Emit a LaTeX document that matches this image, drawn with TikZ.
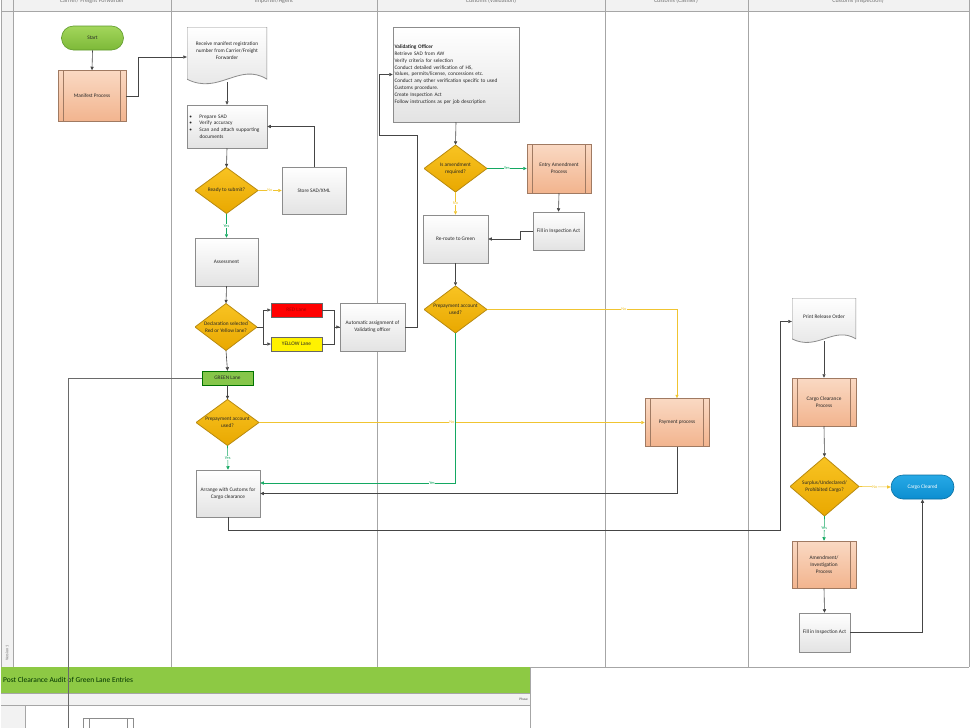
\documentclass[tikz,border=0pt]{standalone}
\usepackage{fontspec}
\setmainfont{Carlito}
\usetikzlibrary{arrows.meta,calc}
\definecolor{lanegray}{HTML}{A6A6A6}
\definecolor{stripgray}{HTML}{F2F2F2}
\definecolor{boxborder}{HTML}{8C8C8C}
\definecolor{boxbot}{HTML}{E3E3E3}
\definecolor{procTop}{HTML}{FAD9C3}
\definecolor{procBot}{HTML}{F2B48E}
\definecolor{procBorder}{HTML}{A07A62}
\definecolor{decTop}{HTML}{F8C322}
\definecolor{decBot}{HTML}{E9A800}
\definecolor{decBorder}{HTML}{B88A10}
\definecolor{startTop}{HTML}{A3D65C}
\definecolor{startBot}{HTML}{7DB938}
\definecolor{startBorder}{HTML}{5E9A2A}
\definecolor{cleTop}{HTML}{27A9E6}
\definecolor{cleBot}{HTML}{0C8ED0}
\definecolor{cleBorder}{HTML}{0A6FA0}
\definecolor{conncol}{HTML}{454545}
\definecolor{yescol}{HTML}{14A862}
\definecolor{nocol}{HTML}{F0C431}
\definecolor{greenband}{HTML}{8DC944}
\definecolor{greenlane}{HTML}{86C64A}
\newcommand{\upby}[2]{\raisebox{#1}[\height][\depth]{#2}}
\begin{document}
\begin{tikzpicture}[x=1pt,y=-1pt,
  every node/.style={font=\fontsize{5.3}{6.8}\selectfont, text=black!85, inner sep=1pt, align=center},
  wh/.style 2 args={minimum width=#1pt, minimum height=#2pt},
  lane/.style={draw=lanegray, line width=0.8pt},
  boxn/.style={rectangle, draw=boxborder, line width=0.5pt, top color=white, bottom color=boxbot},
  procn/.style={rectangle, draw=procBorder, line width=0.5pt, top color=procTop, bottom color=procBot,
    path picture={\draw[procBorder, line width=0.5pt]
      ([xshift=5.5pt]path picture bounding box.north west) -- ([xshift=5.5pt]path picture bounding box.south west)
      ([xshift=-5.5pt]path picture bounding box.north east) -- ([xshift=-5.5pt]path picture bounding box.south east);}},
  decn/.style={rectangle, draw=none, inner sep=0pt,
    path picture={\shadedraw[top color=decTop, bottom color=decBot, draw=decBorder, line width=0.8pt]
      (path picture bounding box.north) -- (path picture bounding box.east) --
      (path picture bounding box.south) -- (path picture bounding box.west) -- cycle;}},
  docn/.style={rectangle, draw=none, inner sep=1pt,
    path picture={\shadedraw[top color=white, bottom color=boxbot, draw=boxborder, line width=0.8pt]
      let \p1=(path picture bounding box.north west), \p2=(path picture bounding box.south east),
          \n1={\y1-\y2}, \n2={\x2-\x1} in
      (\x1,\y1) -- (\x2,\y1) -- (\x2,{\y2+0.13*\n1})
      .. controls ({\x2-0.35*\n2},{\y2+0.42*\n1}) and ({\x1+0.4*\n2},{\y2-0.14*\n1}) ..
      (\x1,{\y2+0.13*\n1}) -- cycle;}},
  termn/.style={rectangle, rounded corners=12pt, line width=0.6pt},
  conn/.style={draw=conncol, line width=0.6pt, -{Triangle[length=3.5pt,width=3.2pt]}},
  yesc/.style={draw=yescol, line width=0.6pt, -{Triangle[length=3.5pt,width=3.2pt]}},
  noc/.style={draw=nocol, line width=0.6pt, -{Triangle[length=3.5pt,width=3.2pt]}},
  yesl/.style={font=\fontsize{4.3}{4.3}\selectfont, text=yescol, fill=white, inner sep=0.4pt},
  nol/.style={font=\fontsize{4.3}{4.3}\selectfont, text=nocol, fill=white, inner sep=0.4pt},
  hdr/.style={font=\fontsize{6}{6}\selectfont, text=black!55}
]
\useasboundingbox (0,0) rectangle (970,728);
% ---------------- swimlane pool ----------------
\fill[stripgray] (1,0) rectangle (969,11);
\fill[stripgray] (1,11) rectangle (13,667);
\draw[lane] (1,0) -- (1,728);
\draw[lane] (13,0) -- (13,667);
\draw[lane] (171,0) -- (171,667);
\draw[lane] (377,0) -- (377,667);
\draw[lane] (605,0) -- (605,667);
\draw[lane] (748,0) -- (748,667);
\draw[lane] (969,0) -- (969,667);
\draw[lane] (1,11) -- (969,11);
\draw[lane] (1,667) -- (969,667);
\node[hdr] (h1) at (92,1) {Carrier/ Freight Forwarder};
\node[hdr] (h2) at (274,1) {Importer/Agent};
\node[hdr] (h3) at (491,1) {Customs (Validation)};
\node[hdr] (h4) at (676,1) {Customs (Cashier)};
\node[hdr] (h5) at (858,1) {Customs (Inspection)};
\node[rotate=90, font=\fontsize{4}{4}\selectfont, text=black!60] (ver) at (7,653) {Version 1};
% ---------------- lower pool ----------------
\fill[greenband] (1,667) rectangle (530,693);
\fill[stripgray] (1,693) rectangle (530,705);
\fill[stripgray] (1,705) rectangle (25,728);
\draw[lane] (1,693) -- (530,693);
\draw[lane] (1,705) -- (530,705);
\draw[lane] (530,667) -- (530,728);
\draw[lane] (25,705) -- (25,728);
\node[anchor=west, font=\fontsize{7.5}{8}\selectfont, text=black!80!green] (pca) at (2,680) {Post Clearance Audit of Green Lane Entries};
\node[anchor=east, font=\fontsize{3.5}{4}\selectfont, text=black!70] (phase) at (529,699) {Phase};
\node[rectangle, draw=boxborder, line width=0.5pt, fill=white, wh={50}{24},
  path picture={\draw[boxborder, line width=0.5pt]
      ([xshift=6pt]path picture bounding box.north west) -- ([xshift=6pt]path picture bounding box.south west)
      ([xshift=-6pt]path picture bounding box.north east) -- ([xshift=-6pt]path picture bounding box.south east);}] (pcabox) at (108,730) {};
% ---------------- column 1 ----------------
\node[termn, draw=startBorder, top color=startTop, bottom color=startBot, wh={62}{24}] (start) at (92.5,38) {Start};
\node[procn, wh={68}{51}] (manifest) at (92,96) {Manifest Process};
% ---------------- column 2 ----------------
\node[docn, wh={80}{60}] (recv) at (227,57) {\upby{6pt}{\begin{tabular}{@{}c@{}}Receive manifest registration\\number from Carrier/Freight\\Forwarder\end{tabular}}};
\node[boxn, wh={80}{43}, text width=77pt, align=left] (prep) at (227,126.5)
  {\makebox[11pt][l]{\,•}Prepare SAD\\\makebox[11pt][l]{\,•}Verify accuracy\\\makebox[11pt][l]{\,•}Scan and attach supporting\\\hspace*{11pt}documents};
\node[decn, wh={63}{46}] (ready) at (226.5,190.5) {Ready to submit?};
\node[boxn, wh={64}{47}] (store) at (314,190.5) {Store SAD/XML};
\node[boxn, wh={63}{48}] (assess) at (226.5,262) {Assessment};
\node[decn, wh={62}{47}] (decl) at (226,327) {Declaration selected\\Red or Yellow lane?};
\node[rectangle, draw=black!60, fill=red, wh={51}{14}, text=red!65!black] (red) at (296.5,310) {RED Lane};
\node[rectangle, draw=black!60, fill=yellow, wh={51}{14}] (yellow) at (296.5,344) {YELLOW Lane};
\node[boxn, wh={65}{48}] (auto) at (372.5,327) {Automatic assignment of\\Validating officer};
\node[rectangle, draw=black!55!green, fill=greenlane, wh={51}{14}] (green) at (227.5,378) {GREEN Lane};
\node[decn, wh={63}{46}] (pre1) at (227.5,422.5) {Prepayment account\\used?};
\node[boxn, wh={64}{47}] (arrange) at (228,493.5) {Arrange with Customs for\\Cargo clearance};
% ---------------- column 3 ----------------
\node[boxn, wh={126}{95}, text width=123pt, align=left] (vo) at (456,74.5)
  {\textbf{Validating Officer}\\Retrieve SAD from AW\\Verify criteria for selection\\Conduct detailed verification of HS,\\Values, permits/license, concessions etc.\\Conduct any other verification specific to used\\Customs procedure.\\Create Inspection Act\\Follow instructions as per job description};
\node[decn, wh={63}{47}] (amend) at (455.5,168.5) {Is amendment\\required?};
\node[procn, wh={64}{49}] (entry) at (559,168.5) {Entry Amendment\\Process};
\node[boxn, wh={51}{38}] (fill1) at (558.5,231) {Fill in Inspection Act};
\node[boxn, wh={65}{48}] (reroute) at (455.5,239) {Re-route to Green};
\node[decn, wh={63}{47}] (pre2) at (455.5,309.5) {Prepayment account\\used?};
% ---------------- column 4 ----------------
\node[procn, wh={64}{48}] (payment) at (677,422.5) {Payment process};
% ---------------- column 5 ----------------
\node[docn, wh={64}{47}] (print) at (824,321.5) {\upby{4.5pt}{Print Release Order}};
\node[procn, wh={64}{48}] (cargoproc) at (824,402) {Cargo Clearance\\Process};
\node[decn, wh={69}{59}] (surplus) at (824.5,486.5) {Surplus/Undeclared/\\Prohibited Cargo?};
\node[termn, draw=cleBorder, top color=cleTop, bottom color=cleBot, wh={63}{24}, text=white] (cleared) at (922.5,487) {Cargo Cleared};
\node[procn, wh={64}{47}] (amendinv) at (824,564.5) {Amendment/\\Investigation\\Process};
\node[boxn, wh={51}{39}] (fill2) at (824.5,632.5) {Fill in Inspection Act};
% ---------------- connectors ----------------
\draw[conn] (start.south) -- (manifest.north);
\draw[conn] (manifest.east) -- ++(12,0) |- (recv.west);
\draw[conn] ([yshift=5pt]recv.south) -- (prep.north);
\draw[conn] (prep.south) -- (ready.north);
\draw[noc] (ready.east) -- node[nol]{No} (store.west);
\draw[conn] (store.north) |- (prep.east);
\draw[yesc] (ready.south) -- node[yesl, pos=0.5]{Yes} (assess.north);
\draw[conn] (assess.south) -- (decl.north);
\draw[conn] (decl.east) -- ++(6,0) |- (red.west);
\draw[conn] (decl.east) -- ++(6,0) |- (yellow.west);
\draw[conn] (red.east) -- ++(12,0) |- (auto.west);
\draw[draw=conncol, line width=0.6pt] (yellow.east) -- ++(12,0) |- (auto.west);
\draw[conn] (auto.east) -- ++(12,0) -- ++(0,-192) -- ++(-38,0) |- (vo.west);
\draw[conn] (decl.south) -- (green.north);
\draw[draw=conncol!80, line width=0.7pt] (green.west) -| ++(-133.5,360);
\draw[conn] (green.south) -- (pre1.north);
\draw[noc] (pre1.east) -- node[nol, pos=0.5]{No} (payment.west);
\draw[yesc] (pre1.south) -- node[yesl, pos=0.5]{Yes} (arrange.north);
\draw[conn] (vo.south) -- (amend.north);
\draw[yesc] (amend.east) -- node[yesl]{Yes} (entry.west);
\draw[noc] (amend.south) -- node[nol]{No} (reroute.north);
\draw[conn] (entry.south) -- (fill1.north);
\draw[conn] (fill1.west) -- ++(-12,0) |- (reroute.east);
\draw[conn] (reroute.south) -- (pre2.north);
\draw[noc] (pre2.east) -| node[nol, pos=0.36]{No} (payment.north);
\draw[yesc] (pre2.south) |- node[yesl, pos=0.56]{Yes} ([yshift=10.5pt]arrange.east);
\draw[conn] (payment.south) |- (arrange.east);
\draw[conn] (arrange.south) -- ++(0,13.5) -- ++(552,0) |- (print.west);
\draw[conn] ([yshift=4pt]print.south) -- (cargoproc.north);
\draw[conn] (cargoproc.south) -- (surplus.north);
\draw[noc] (surplus.east) -- node[nol]{No} (cleared.west);
\draw[yesc] (surplus.south) -- node[yesl]{Yes} (amendinv.north);
\draw[conn] (amendinv.south) -- (fill2.north);
\draw[conn] (fill2.east) -| (cleared.south);
\end{tikzpicture}
\end{document}
